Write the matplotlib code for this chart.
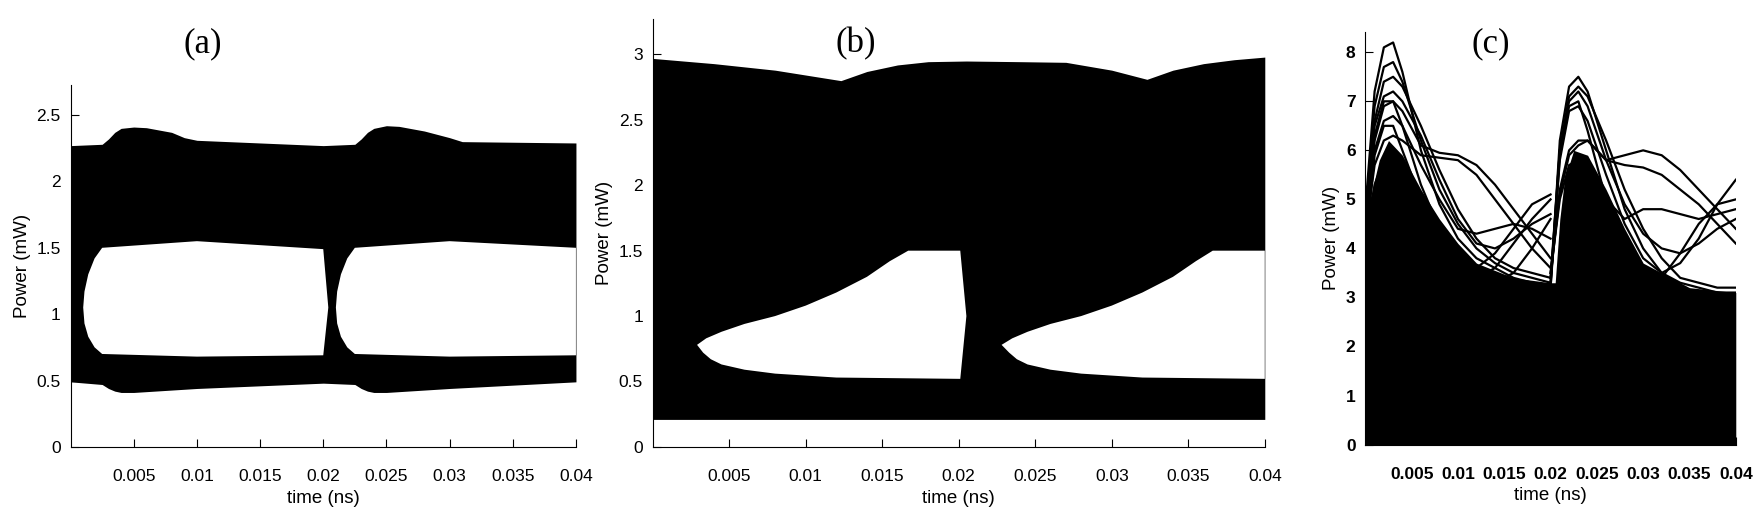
import numpy as np
import matplotlib
matplotlib.use("Agg")
import matplotlib.pyplot as plt

plt.rcParams['font.family'] = ['Liberation Sans', 'DejaVu Sans']

# ---------- (a) envelopes ----------
a_top_t = [0, 0.0025, 0.003, 0.0035, 0.004, 0.005, 0.006, 0.008, 0.009, 0.010, 0.020, 0.0225, 0.023, 0.0235, 0.024, 0.025, 0.026, 0.028, 0.030, 0.031, 0.040]
a_top_y = [2.27, 2.28, 2.32, 2.37, 2.40, 2.41, 2.405, 2.37, 2.33, 2.31, 2.27, 2.28, 2.32, 2.37, 2.40, 2.42, 2.415, 2.38, 2.33, 2.30, 2.29]
a_bot_t = [0, 0.0025, 0.003, 0.0035, 0.004, 0.005, 0.010, 0.020, 0.0225, 0.023, 0.0235, 0.024, 0.025, 0.030, 0.040]
a_bot_y = [0.49, 0.47, 0.44, 0.42, 0.41, 0.41, 0.44, 0.48, 0.47, 0.44, 0.42, 0.41, 0.41, 0.44, 0.49]
a_eye1_t = [0.0025, 0.0019, 0.0014, 0.0011, 0.0010, 0.0011, 0.0014, 0.0019, 0.0025, 0.010, 0.0200, 0.0204, 0.0200, 0.010]
a_eye1_y = [1.50, 1.42, 1.30, 1.17, 1.05, 0.93, 0.83, 0.75, 0.70, 0.68, 0.69, 1.05, 1.49, 1.55]
a_eye2_t = [0.0225, 0.0219, 0.0214, 0.0211, 0.0210, 0.0211, 0.0214, 0.0219, 0.0225, 0.030, 0.040, 0.040, 0.030]
a_eye2_y = [1.50, 1.42, 1.30, 1.17, 1.05, 0.93, 0.83, 0.75, 0.70, 0.68, 0.69, 1.50, 1.55]

# ---------- (b) envelopes ----------
b_top_t = [0, 0.002, 0.004, 0.008, 0.0123, 0.014, 0.016, 0.018, 0.0205, 0.024, 0.027, 0.030, 0.0323, 0.034, 0.036, 0.038, 0.040]
b_top_y = [2.97, 2.95, 2.93, 2.88, 2.80, 2.87, 2.92, 2.945, 2.95, 2.945, 2.94, 2.88, 2.81, 2.88, 2.93, 2.96, 2.98]
b_bot_t = [0, 0.040]
b_bot_y = [0.21, 0.21]
b_eye1_t = [0.0029, 0.0035, 0.0045, 0.006, 0.008, 0.010, 0.012, 0.014, 0.0155, 0.0167, 0.0201, 0.0205, 0.0201, 0.012, 0.008, 0.006, 0.0045, 0.0038, 0.0033]
b_eye1_y = [0.78, 0.83, 0.88, 0.94, 1.00, 1.08, 1.18, 1.30, 1.42, 1.50, 1.50, 1.00, 0.52, 0.53, 0.56, 0.59, 0.63, 0.67, 0.72]
b_eye2_t = [0.0228, 0.0235, 0.0245, 0.026, 0.028, 0.030, 0.032, 0.034, 0.0355, 0.0366, 0.040, 0.040, 0.032, 0.028, 0.026, 0.0245, 0.0238, 0.0233]
b_eye2_y = [0.78, 0.83, 0.88, 0.94, 1.00, 1.08, 1.18, 1.30, 1.42, 1.50, 1.50, 0.52, 0.53, 0.56, 0.59, 0.63, 0.67, 0.72]

# ---------- (c) ----------
c_base_t = [0, 0.0005, 0.0015, 0.0025, 0.004, 0.006, 0.008, 0.010, 0.012, 0.016, 0.020,
            0.0205, 0.021, 0.0215, 0.0225, 0.024, 0.026, 0.028, 0.030, 0.035, 0.040]
c_base_y = [4.5, 5.0, 5.8, 6.2, 5.9, 5.2, 4.6, 4.1, 3.7, 3.4, 3.3,
            3.3, 4.6, 5.4, 6.0, 5.9, 5.2, 4.4, 3.7, 3.2, 3.1]
c_seg_t = [0, 0.001, 0.002, 0.003, 0.004, 0.006, 0.008, 0.010, 0.012, 0.014, 0.016, 0.018, 0.020]
c_traces1 = [
    [4.8, 7.2, 8.1, 8.2, 7.6, 6.0, 4.9, 4.2, 3.8, 3.6, 3.4, 3.3, 3.2],
    [4.6, 6.9, 7.7, 7.8, 7.4, 6.2, 5.2, 4.5, 4.0, 3.7, 3.5, 3.4, 3.3],
    [4.5, 6.6, 7.4, 7.5, 7.3, 6.5, 5.6, 4.8, 4.2, 3.8, 3.6, 3.5, 3.4],
    [4.4, 6.2, 6.9, 7.0, 6.8, 6.1, 5.95, 5.9, 5.7, 5.3, 4.8, 4.3, 3.8],
    [4.3, 5.7, 6.2, 6.3, 6.2, 5.9, 5.85, 5.8, 5.5, 5.0, 4.5, 4.0, 3.6],
    [4.2, 6.3, 7.0, 7.0, 6.5, 5.3, 4.4, 3.8, 3.6, 3.9, 4.4, 4.9, 5.1],
    [4.0, 5.9, 6.5, 6.5, 6.0, 5.0, 4.2, 3.6, 3.4, 3.6, 4.1, 4.6, 5.0],
    [4.0, 5.3, 5.8, 5.9, 5.6, 5.0, 4.5, 4.0, 3.5, 3.3, 3.5, 4.0, 4.6],
    [4.6, 6.5, 7.1, 7.2, 7.0, 6.3, 5.4, 4.6, 4.1, 4.0, 4.2, 4.5, 4.7],
    [4.5, 6.0, 6.6, 6.7, 6.5, 5.7, 5.0, 4.4, 4.3, 4.4, 4.5, 4.4, 4.2],
]
c_traces2 = [
    [3.2, 6.2, 7.3, 7.5, 7.2, 6.0, 4.8, 4.0, 3.5, 3.3, 3.2, 3.1, 3.1],
    [3.3, 6.0, 7.1, 7.3, 7.1, 6.2, 5.2, 4.4, 3.8, 3.4, 3.3, 3.2, 3.2],
    [3.4, 5.2, 6.0, 6.2, 6.2, 5.8, 5.9, 6.0, 5.9, 5.6, 5.2, 4.8, 4.4],
    [3.5, 5.1, 5.9, 6.1, 6.2, 5.8, 5.7, 5.65, 5.5, 5.2, 4.9, 4.5, 4.1],
    [3.3, 5.8, 6.8, 6.9, 6.6, 5.5, 4.5, 3.8, 3.5, 3.7, 4.2, 4.9, 5.4],
    [3.2, 5.9, 6.9, 7.0, 6.4, 5.0, 4.1, 3.5, 3.4, 3.9, 4.5, 4.9, 5.0],
    [3.5, 5.0, 5.7, 5.8, 5.6, 5.0, 4.6, 4.8, 4.8, 4.7, 4.6, 4.7, 4.8],
    [3.4, 6.0, 7.0, 7.2, 6.9, 5.8, 4.9, 4.3, 4.0, 3.9, 4.1, 4.4, 4.6],
]

xticks = [0.005, 0.01, 0.015, 0.02, 0.025, 0.03, 0.035, 0.04]
xticklabels = ['0.005', '0.01', '0.015', '0.02', '0.025', '0.03', '0.035', '0.04']

fig = plt.figure(figsize=(17.64, 5.11), dpi=100)
axa = fig.add_axes([0.0400, 0.1255, 0.2865, 0.709])
axb = fig.add_axes([0.370, 0.1255, 0.347, 0.837])
axc = fig.add_axes([0.774, 0.130, 0.210, 0.808])


def style(ax, ylim, yticks, yticklabels):
    ax.set_xlim(0, 0.04)
    ax.set_ylim(*ylim)
    ax.spines['top'].set_visible(False)
    ax.spines['right'].set_visible(False)
    ax.set_xticks(xticks)
    ax.set_xticklabels(xticklabels)
    ax.set_yticks(yticks)
    ax.set_yticklabels(yticklabels)
    ax.tick_params(direction='in', labelsize=12.5, length=6, pad=16)
    ax.tick_params(axis='y', pad=7)
    ax.set_xlabel('time (ns)', fontsize=13.5)
    ax.set_ylabel('Power (mW)', fontsize=13.5)


# (a)
ta = np.union1d(a_top_t, a_bot_t)
axa.fill_between(ta, np.interp(ta, a_bot_t, a_bot_y), np.interp(ta, a_top_t, a_top_y), color='black', lw=0)
axa.fill(a_eye1_t, a_eye1_y, color='white', lw=0)
axa.fill(a_eye2_t, a_eye2_y, color='white', lw=0)
style(axa, (0, 2.73), [0, 0.5, 1, 1.5, 2, 2.5], ['0', '0.5', '1', '1.5', '2', '2.5'])

# (b)
tb = np.union1d(b_top_t, b_bot_t)
axb.fill_between(tb, np.interp(tb, b_bot_t, b_bot_y), np.interp(tb, b_top_t, b_top_y), color='black', lw=0)
axb.fill(b_eye1_t, b_eye1_y, color='white', lw=0)
axb.fill(b_eye2_t, b_eye2_y, color='white', lw=0)
style(axb, (0, 3.27), [0, 0.5, 1, 1.5, 2, 2.5, 3], ['0', '0.5', '1', '1.5', '2', '2.5', '3'])

# (c)
axc.fill_between(c_base_t, 0, c_base_y, color='black', lw=0)
seg = np.array(c_seg_t)
for tr in c_traces1:
    axc.plot(seg, tr, color='black', lw=1.6)
for tr in c_traces2:
    axc.plot(seg + 0.02, tr, color='black', lw=1.6)
style(axc, (0, 8.42), list(range(9)), [str(i) for i in range(9)])
for lab in axc.get_yticklabels() + axc.get_xticklabels():
    lab.set_fontweight('bold')

# panel titles
for x, s in [(0.115, '(a)'), (0.485, '(b)'), (0.845, '(c)')]:
    fig.text(x, 0.915, s, fontsize=25, family='Liberation Serif', ha='center', va='center')

fig.savefig('out.png', dpi=100)
